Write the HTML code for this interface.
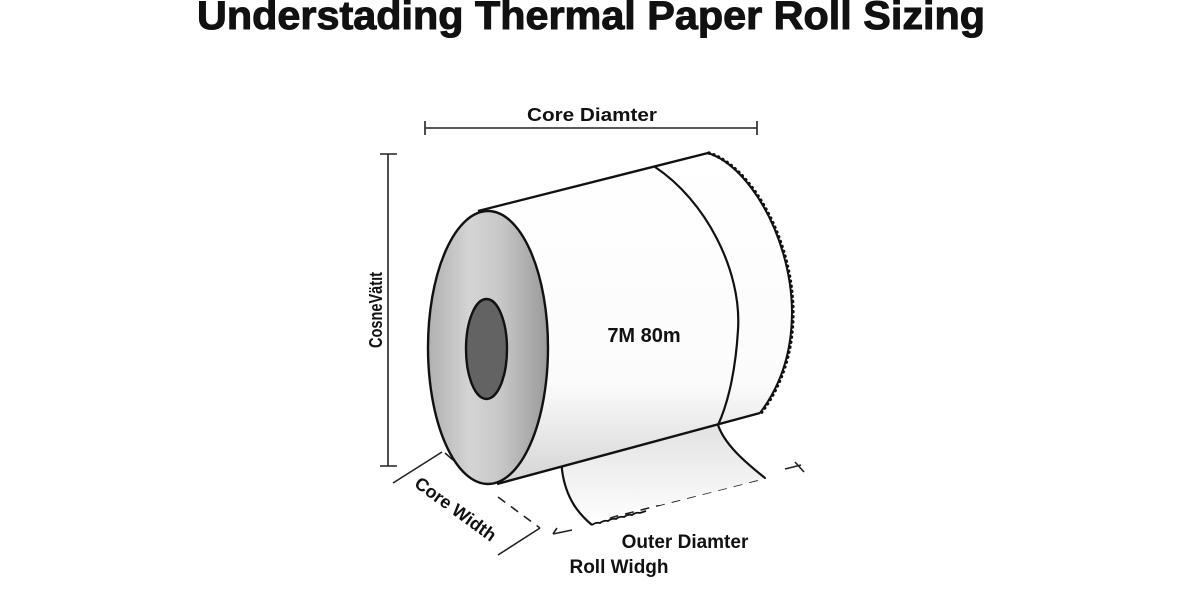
<!DOCTYPE html>
<html><head><meta charset="utf-8"><style>
html,body{margin:0;padding:0;background:#fff;width:1200px;height:600px;overflow:hidden}
text{font-family:"Liberation Sans",sans-serif;font-weight:bold;fill:#111}
</style></head><body>
<svg width="1200" height="600" viewBox="0 0 1200 600" xmlns="http://www.w3.org/2000/svg">
<defs>
<linearGradient id="face" x1="0" y1="0" x2="1" y2="0">
<stop offset="0" stop-color="#b0b0b0"/><stop offset="0.35" stop-color="#d4d4d4"/><stop offset="0.6" stop-color="#c8c8c8"/><stop offset="1" stop-color="#9a9a9a"/>
</linearGradient>
<linearGradient id="body" x1="0" y1="0" x2="0" y2="1">
<stop offset="0" stop-color="#fff"/><stop offset="0.7" stop-color="#fbfbfb"/><stop offset="1" stop-color="#d4d4d4"/>
</linearGradient>
<linearGradient id="hang" x1="0" y1="0" x2="0" y2="1">
<stop offset="0" stop-color="#d0d0d0"/><stop offset="1" stop-color="#fff"/>
</linearGradient>
</defs>
<text x="591" y="29" font-size="40" text-anchor="middle" textLength="788" lengthAdjust="spacingAndGlyphs" stroke="#111" stroke-width="1">Understading Thermal Paper Roll Sizing</text>

<text x="592" y="121" font-size="18" text-anchor="middle" textLength="130" lengthAdjust="spacingAndGlyphs">Core Diamter</text>
<g stroke="#222" stroke-width="1.6" fill="none">
<line x1="425" y1="128" x2="757" y2="128"/>
<line x1="425" y1="121" x2="425" y2="135"/>
<line x1="757" y1="121" x2="757" y2="135"/>
<line x1="388" y1="154" x2="388" y2="466"/>
<line x1="380" y1="154" x2="397" y2="154"/>
<line x1="380" y1="466" x2="397" y2="466"/>
<line x1="393" y1="483" x2="442" y2="452"/>
<line x1="445" y1="453" x2="453" y2="460"/>
<line x1="498" y1="555" x2="540" y2="528"/>
<line x1="498" y1="497" x2="540" y2="528" stroke-dasharray="9,7"/>
<line x1="553" y1="534" x2="572" y2="530"/>
<line x1="553" y1="534" x2="557" y2="528"/>
<line x1="594" y1="522" x2="766" y2="478" stroke-dasharray="9,7"/>
<line x1="785" y1="469" x2="801" y2="465"/>
<line x1="795" y1="462" x2="804" y2="472"/>
</g>
<text transform="translate(382,310) rotate(-90)" font-size="18" text-anchor="middle" textLength="76" lengthAdjust="spacingAndGlyphs">CosneVätıt</text>
<text transform="translate(452,514) rotate(36)" font-size="18" text-anchor="middle">Core Width</text>

<path d="M550,362 C560,400 560,440 562,470 C566,500 580,515 592,525 C615,515 640,505 660,505 C700,495 740,485 765,478 C745,460 725,445 718,425 Z" fill="url(#hang)"/>
<path d="M550,362 C560,400 560,440 562,470 C566,500 580,515 592,525" stroke="#111" stroke-width="2.2" fill="none"/>
<path d="M592,525 q4,-3 8,-2 q4,-3 8,-2 q4,-3 8,-2 q4,-3 8,-2 q4,-3 8,-2 q4,-3 8,-2 l6,-2" stroke="#111" stroke-width="1.8" fill="none"/>
<path d="M718,425 C725,445 745,462 765,478" stroke="#111" stroke-width="2.2" fill="none"/>

<path id="edge" d="M708,153 C768,172 832,318 760,413 L497,484 L478,211 Z" fill="url(#body)"/>
<path d="M478,211 L708,153" stroke="#111" stroke-width="2.4" fill="none"/>
<path d="M497,484 L760,413" stroke="#111" stroke-width="2.4" fill="none"/>
<path d="M708,153 C768,172 832,318 760,413" stroke="#111" stroke-width="2" fill="none"/>
<path d="M708,153 C768,172 832,318 760,413" stroke="#111" stroke-width="3.5" stroke-linecap="round" stroke-dasharray="0.1,5" fill="none" transform="translate(1,0)"/>
<path d="M655,167 C705,200 742,270 738,330 C735,380 725,410 718,425" stroke="#111" stroke-width="2.2" fill="none"/>
<text x="644" y="342" font-size="20" text-anchor="middle">7M 80m</text>

<ellipse cx="488" cy="347.5" rx="60" ry="136.5" fill="url(#face)" stroke="#111" stroke-width="2.4"/>
<ellipse cx="486.5" cy="349" rx="20.5" ry="50" fill="#636363" stroke="#111" stroke-width="2.4"/>

<text x="685" y="548" font-size="19" text-anchor="middle">Outer Diamter</text>
<text x="619" y="573" font-size="19" text-anchor="middle">Roll Widgh</text>
</svg>
</body></html>
